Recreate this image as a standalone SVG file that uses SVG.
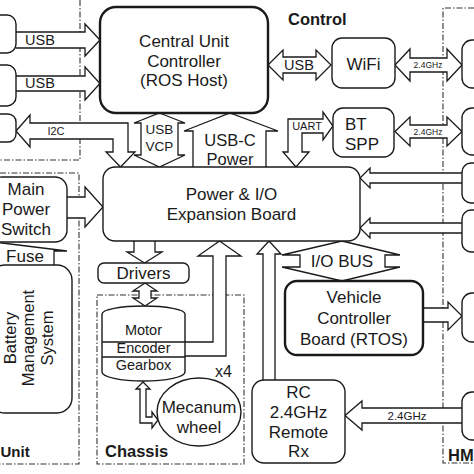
<svg xmlns="http://www.w3.org/2000/svg" width="474" height="474" viewBox="0 0 474 474">
<style>
.bx{fill:#fff;stroke:#1a1a1a;stroke-width:1.4}
.bk{fill:#fff;stroke:#1a1a1a;stroke-width:2.4}
.ar{fill:#fff;stroke:#1a1a1a;stroke-width:1.3;stroke-linejoin:miter}
.dd{fill:none;stroke:#333;stroke-width:1.1;stroke-dasharray:6 2 1.5 2}
text{font-family:"Liberation Sans",Arial,sans-serif;fill:#1a1a1a;text-anchor:middle}
.t{font-size:17px}
.s{font-size:14.5px}
.xs{font-size:11px}
.xxs{font-size:8.5px}
.b{font-size:16.5px;font-weight:bold;text-anchor:start}
</style>
<rect width="474" height="474" fill="#fff"/>
<g id="regions">
<path class="dd" d="M80,0 V160 H0"/>
<path class="dd" d="M0,173 H79 V464 H0"/>
<rect class="dd" x="97" y="295" width="147" height="169"/>
<path class="dd" d="M474,8 H443 V463 H474"/>
<text class="b" x="288" y="25">Control</text>
<text class="b" x="0.5" y="457" style="font-size:15px">Unit</text>
<text class="b" x="105" y="457">Chassis</text>
<text class="b" x="448" y="461">HM</text>
</g>
<g id="connectors">
<path class="ar" d="M16,32 H85 V24 L100,40 L85,56 V48 H16"/>
<text class="s" x="40" y="45">USB</text>
<path class="ar" d="M16,76 H85 V67 L100,83.5 L85,100 V91 H16"/>
<text class="s" x="40" y="88">USB</text>
<path class="ar" d="M16,131 L30,115 V123 H128 V152 H135 L120.5,167 L106,152 H113 V139 H30 V147 Z"/>
<text class="xs" x="56" y="135">I2C</text>
<path class="ar" d="M159.5,113 L185,123 H178 V155 H185 L159.5,167 L134,155 H141 V123 H134 Z"/>
<text class="s" x="159.5" y="134" style="font-size:13.5px">USB</text>
<text class="s" x="159.5" y="151" style="font-size:13.5px">VCP</text>
<path class="ar" d="M193,167 V131 H184 L230,113 L278,131 H266 V167"/>
<text class="t" x="230" y="146" style="font-size:16.5px">USB-C</text>
<text class="t" x="230" y="164.5" style="font-size:16.5px">Power</text>
<path class="ar" d="M296,167 L283,152 H288 V119 H323 V112 L333,126 L323,140 V133 H302 V152 H309 Z"/>
<text class="xs" x="307" y="130">UART</text>
<path class="ar" d="M268,65 L283,50 V57 H316 V50 L331,65 L316,80 V73 H283 V80 Z"/>
<text class="s" x="299" y="70">USB</text>
<path class="ar" d="M395,65 L410,49 V58 H447 V49 L462,65 L447,81 V72 H410 V81 Z"/>
<text class="xxs" x="428" y="68">2.4GHz</text>
<path class="ar" d="M395,131.5 L410,117 V125 H447 V117 L462,131.5 L447,146 V138 H410 V146 Z"/>
<text class="xxs" x="428" y="134.5">2.4GHz</text>
<path class="ar" d="M462,173 H370 V168 L360,178 L370,188 V183 H462"/>
<path class="ar" d="M462,223 H370 V218 L360,228 L370,238 V233 H462"/>
<path class="ar" d="M67,197 H85 V187 L103,207 L85,227 V218 H67"/>
<path class="ar" d="M54,265 V251 H67 L-6,242" style="fill:none"/>
<text class="t" x="25" y="262">Fuse</text>
<path class="ar" d="M134,241 V252 H127 L144.5,263 L162,252 H155 V241"/>
<path class="ar" d="M145,283 L157,291 H151 V298 H157 L145,306 L133,298 H139 V291 H133 Z"/>
<path class="ar" d="M185,342 H213 V256 H198 L219.5,241 L241,256 H226 V356 H185"/>
<path class="ar" d="M263,380 V254 H257 L269,241 L281,254 H275 V380"/>
<path class="ar" d="M342,241 L400,255 H385 V267 H400 L342,281 L282,267 H300 V255 H282 Z"/>
<text class="t" x="342" y="267">I/O BUS</text>
<path class="ar" d="M423,308 H448 V302 L462,316 L448,330 V322 H423"/>
<path class="ar" d="M462,408 H362 V401 L345,415.5 L362,430 V423 H462"/>
<text class="xs" x="407" y="420" style="font-size:11.5px">2.4GHz</text>
<path class="ar" d="M143,382 L150,389 H146 V417 H152 V412 L158,420 L152,428 V423 H140 V389 H136 Z"/>
</g>
<g id="left1"><rect class="bx" x="-10" y="15" width="26" height="38" rx="9"/></g>
<g id="left2"><rect class="bx" x="-10" y="65" width="26" height="41" rx="9"/></g>
<g id="left3"><rect class="bx" x="-10" y="114" width="26" height="28" rx="8"/></g>
<g id="central">
<rect class="bk" x="100" y="7" width="168" height="106" rx="16"/>
<text class="t" x="184" y="47">Central Unit</text>
<text class="t" x="184" y="67">Controller</text>
<text class="t" x="184" y="86">(ROS Host)</text>
</g>
<g id="wifi">
<rect class="bx" x="332" y="38" width="63" height="50" rx="10"/>
<text class="t" x="363.5" y="70">WiFi</text>
</g>
<g id="bt">
<rect class="bx" x="333" y="108" width="61" height="49" rx="10"/>
<text class="t" x="345" y="130" style="text-anchor:start">BT</text>
<text class="t" x="345" y="150" style="text-anchor:start">SPP</text>
</g>
<g id="pio">
<rect class="bx" x="103" y="167" width="257" height="74" rx="12"/>
<text class="t" x="231.5" y="200">Power &amp; I/O</text>
<text class="t" x="231.5" y="220">Expansion Board</text>
</g>
<g id="mainswitch">
<rect class="bx" x="-10" y="177" width="77" height="65" rx="12"/>
<text class="t" x="26" y="195">Main</text>
<text class="t" x="26" y="215">Power</text>
<text class="t" x="26" y="235">Switch</text>
</g>
<g id="battery">
<rect class="bx" x="-10" y="265" width="82" height="148" rx="15"/>
<text class="t" style="font-size:16.5px" transform="translate(15.5,338) rotate(-90)">Battery</text>
<text class="t" style="font-size:16.5px" transform="translate(34,338) rotate(-90)">Management</text>
<text class="t" style="font-size:16.5px" transform="translate(52.5,338) rotate(-90)">System</text>
</g>
<g id="drivers">
<rect class="bx" x="98" y="263" width="91" height="20" rx="6"/>
<text class="t" x="143.5" y="279">Drivers</text>
</g>
<g id="motor">
<path class="bx" d="M102,314 A41.5,8 0 0 1 185,314 V372 A41.5,9 0 0 1 102,372 Z"/>
<path class="bx" d="M102,342 H185 M102,357 H185"/>
<text class="s" x="143.5" y="335">Motor</text>
<text class="s" x="143.5" y="353">Encoder</text>
<text class="s" x="143.5" y="370">Gearbox</text>
<text class="t" x="215" y="377" style="text-anchor:start;font-size:16px">x4</text>
</g>
<g id="wheel">
<ellipse class="bx" cx="199" cy="412" rx="42" ry="34"/>
<text class="t" x="199" y="413">Mecanum</text>
<text class="t" x="199" y="433">wheel</text>
</g>
<g id="vcb">
<rect class="bk" x="285" y="281" width="138" height="74" rx="12"/>
<text class="t" x="354" y="303">Vehicle</text>
<text class="t" x="354" y="324">Controller</text>
<text class="t" x="354" y="345">Board (RTOS)</text>
</g>
<g id="rc">
<rect class="bx" x="252" y="380" width="93" height="83" rx="12"/>
<text class="t" x="298.5" y="398">RC</text>
<text class="t" x="298.5" y="418">2.4GHz</text>
<text class="t" x="298.5" y="438">Remote</text>
<text class="t" x="298.5" y="457">Rx</text>
</g>
<g id="right1"><rect class="bx" x="462" y="40" width="30" height="48" rx="10"/></g>
<g id="right2"><rect class="bx" x="462" y="108" width="30" height="47" rx="10"/></g>
<g id="right3"><rect class="bx" x="462" y="163" width="30" height="40" rx="9"/></g>
<g id="right4"><rect class="bx" x="462" y="210" width="30" height="42" rx="9"/></g>
<g id="right5"><rect class="bx" x="462" y="293" width="30" height="49" rx="10"/></g>
<g id="right6"><rect class="bx" x="462" y="392" width="30" height="48" rx="10"/></g>
</svg>
